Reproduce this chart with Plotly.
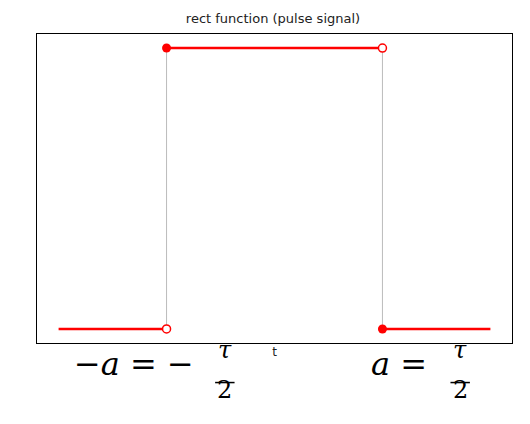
import plotly.graph_objects as go

# pulse segments
seg_t = [[-2, -1], [-1, 1], [1, 2]]
seg_y = [[0, 0], [1, 1], [0, 0]]
filled_t = [-1, 1]
filled_y = [1, 0]
open_t = [-1, 1]
open_y = [0, 1]
edges_t = [-1, 1]

red = "#ff0000"
fig = go.Figure()

for t in edges_t:
    fig.add_trace(go.Scatter(x=[t, t], y=[0, 1], mode="lines",
                             line=dict(color="#bbbbbb", width=1), showlegend=False))
for t, y in zip(seg_t, seg_y):
    fig.add_trace(go.Scatter(x=t, y=y, mode="lines",
                             line=dict(color=red, width=2.5), showlegend=False))
fig.add_trace(go.Scatter(x=filled_t, y=filled_y, mode="markers",
                         marker=dict(color=red, size=9), showlegend=False))
fig.add_trace(go.Scatter(x=open_t, y=open_y, mode="markers",
                         marker=dict(color="white", size=8, line=dict(color=red, width=1.5)),
                         showlegend=False))

serif = "DejaVu Serif"
ann = [
    dict(x=-1.30, y=-0.135, text="−<i>a</i> = −", size=32),
    dict(x=-0.46, y=-0.075, text="<i>τ</i>", size=24),
    dict(x=-0.46, y=-0.205, text="2", size=24),
    dict(x=1.20, y=-0.135, text="<i>a</i> = ", size=32),
    dict(x=1.72, y=-0.075, text="<i>τ</i>", size=24),
    dict(x=1.72, y=-0.205, text="2", size=24),
]
for a in ann:
    fig.add_annotation(x=a["x"], y=a["y"], xref="x", yref="paper", text=a["text"],
                       showarrow=False, font=dict(family=serif, size=a["size"], color="black"))
for cx in [-0.46, 1.72]:
    fig.add_shape(type="line", xref="x", yref="paper", x0=cx - 0.09, x1=cx + 0.09,
                  y0=-0.128, y1=-0.128, line=dict(color="black", width=1.5))

fig.update_layout(
    width=530, height=424,
    margin=dict(l=29, r=26, t=26, b=89),
    plot_bgcolor="white", paper_bgcolor="white",
    title=dict(text="rect function (pulse signal)", x=0.5, xanchor="center",
               y=0.985, yanchor="top", font=dict(family="DejaVu Sans", size=13, color="#222")),
)
fig.update_xaxes(range=[-2.2, 2.2], showticklabels=False, ticks="", showgrid=False, zeroline=False,
                 showline=True, linecolor="black", linewidth=1, mirror=True,
                 title=dict(text="t", font=dict(family="DejaVu Sans", size=12, color="#222"), standoff=4))
fig.update_yaxes(range=[-0.05, 1.05], showticklabels=False, ticks="", showgrid=False, zeroline=False,
                 showline=True, linecolor="black", linewidth=1, mirror=True)

fig.write_html("out.html")
